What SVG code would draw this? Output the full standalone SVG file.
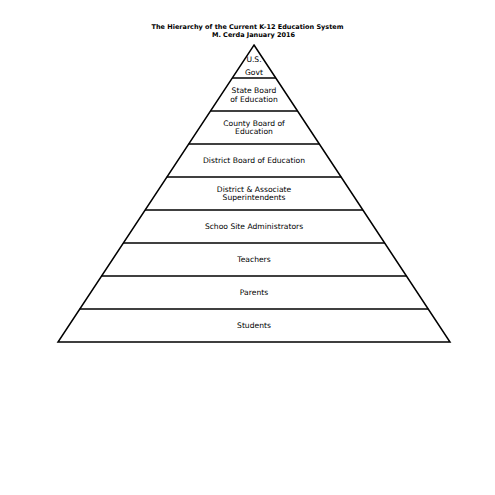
<svg xmlns="http://www.w3.org/2000/svg" width="495" height="495" viewBox="0 0 495 495">
<style>
.t{font-family:"DejaVu Sans","Open Sans",sans-serif;font-size:7.6px;fill:#000;text-anchor:middle}
.h{font-family:"DejaVu Sans","Open Sans",sans-serif;font-size:6.5px;font-weight:bold;fill:#000;text-anchor:middle}
.l{stroke:#000;stroke-width:1.5;fill:none}
</style>
<rect width="495" height="495" fill="#fff"/>
<g id="title">
<text class="h" x="247.5" y="28.7">The Hierarchy of the Current K-12 Education System</text>
<text class="h" x="253.5" y="36.7">M. Cerda January 2016</text>
</g>
<g id="pyramid">
<polygon class="l" points="254,45 450,342 58,342" stroke-linejoin="miter"/>
</g>
<g id="connectors">
<line class="l" x1="232.2" y1="78" x2="275.8" y2="78"/>
<line class="l" x1="210.4" y1="111" x2="297.6" y2="111"/>
<line class="l" x1="188.6" y1="144" x2="319.4" y2="144"/>
<line class="l" x1="166.8" y1="177" x2="341.2" y2="177"/>
<line class="l" x1="145" y1="210" x2="363" y2="210"/>
<line class="l" x1="123.2" y1="243" x2="384.8" y2="243"/>
<line class="l" x1="101.4" y1="276" x2="406.6" y2="276"/>
<line class="l" x1="79.6" y1="309" x2="428.4" y2="309"/>
</g>
<g id="n1"><text class="t" x="254" y="62">U.S.</text><text class="t" x="254" y="74.5">Govt</text></g>
<g id="n2"><text class="t" x="254" y="93">State Board</text><text class="t" x="254" y="101.5">of Education</text></g>
<g id="n3"><text class="t" x="254" y="125.8">County Board of</text><text class="t" x="254" y="134.4">Education</text></g>
<g id="n4"><text class="t" x="254" y="163">District Board of Education</text></g>
<g id="n5"><text class="t" x="254" y="191.8">District &amp; Associate</text><text class="t" x="254" y="200.4">Superintendents</text></g>
<g id="n6"><text class="t" x="254" y="229">Schoo Site Administrators</text></g>
<g id="n7"><text class="t" x="254" y="262">Teachers</text></g>
<g id="n8"><text class="t" x="254" y="295">Parents</text></g>
<g id="n9"><text class="t" x="254" y="328">Students</text></g>
</svg>
